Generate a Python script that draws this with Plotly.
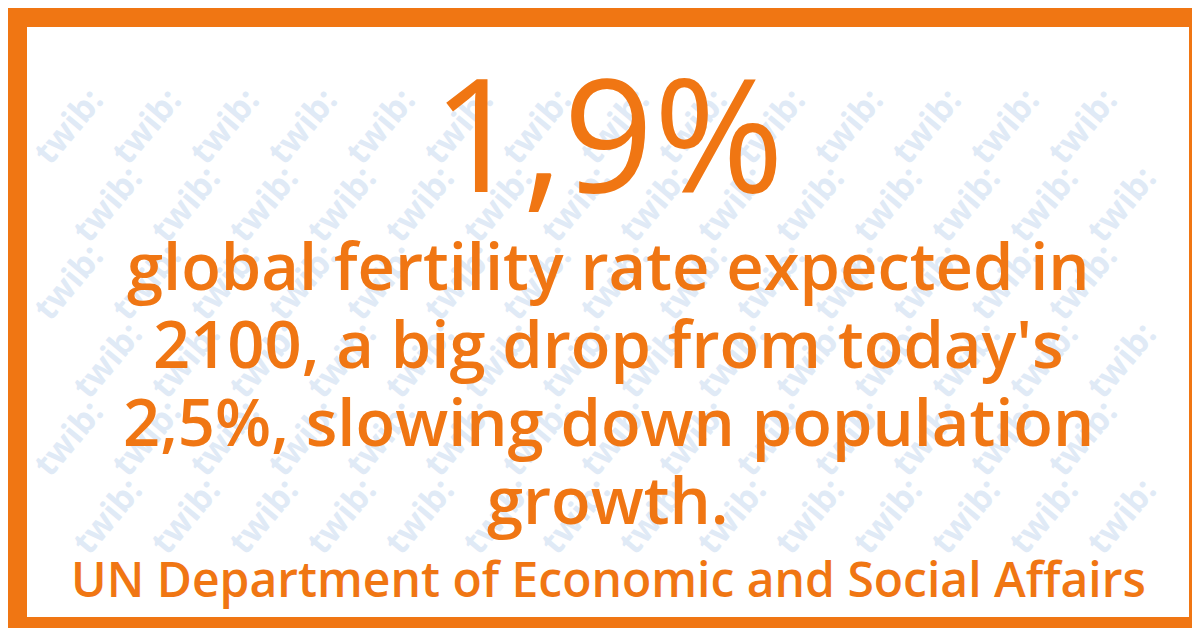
import plotly.graph_objects as go

headline = "1,9%"
body_lines = ["global fertility rate expected in", "2100, a big drop from today's",
              "2,5%, slowing down population", "growth."]
source = "UN Department of Economic and Social Affairs"
watermark = "twib:"

ORANGE = "#f07613"
W, H = 1200, 628
fig = go.Figure()
fig.add_shape(type="rect", x0=0, x1=W, y0=0, y1=H, fillcolor=ORANGE, line_width=0, layer="below")
fig.add_shape(type="rect", x0=19, x1=W - 19, y0=19, y1=H - 19, fillcolor="white", line_width=0, layer="below")

anns = []
for r in range(-1, 10):
    for c in range(-1, 17):
        x = c * 78 + (r % 2) * 39 + 20
        y = r * 78 + 40
        if 48 < x < W - 58 and 48 < y < H - 48:
            anns.append(dict(x=x, y=y, text=watermark, showarrow=False, textangle=-50,
                             font=dict(family="Open Sans", size=34, weight=700, color="#e0eaf6")))
anns.append(dict(x=600, y=122, text=headline, showarrow=False,
                 font=dict(family="Open Sans", size=158, color=ORANGE)))
for i, t in enumerate(body_lines):
    anns.append(dict(x=600, y=257 + i * 78, text=t, showarrow=False,
                     font=dict(family="Open Sans", size=65, weight=600, color=ORANGE)))
anns.append(dict(x=600, y=570, text=source, showarrow=False,
                 font=dict(family="Open Sans", size=48, weight=600, color=ORANGE)))

fig.update_layout(width=W, height=H, margin=dict(l=0, r=0, t=0, b=0),
                  paper_bgcolor=ORANGE, plot_bgcolor="white", showlegend=False,
                  xaxis=dict(range=[0, W], visible=False, fixedrange=True),
                  yaxis=dict(range=[H, 0], visible=False, fixedrange=True),
                  annotations=anns)
fig.write_html("out.html", config={"displayModeBar": False})
